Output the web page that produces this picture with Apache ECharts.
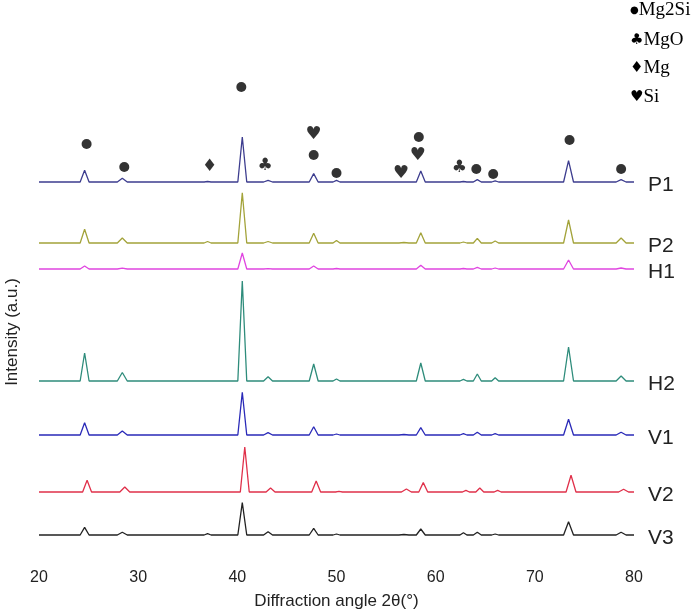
<!DOCTYPE html>
<html>
<head>
<meta charset="utf-8">
<script src="https://cdn.jsdelivr.net/npm/echarts@6/dist/echarts.min.js"></script>
<style>
  html, body { margin: 0; padding: 0; background: #fff; }
  #chart { width: 700px; height: 611px; }
</style>
</head>
<body>
<div id="chart"></div>
<script>
// peak positions (2θ) shared by all samples
const angles = [24.6, 28.4, 37.0, 40.5, 43.1, 47.7, 50.0, 56.8, 58.5, 62.8, 64.2, 66.0, 73.4, 78.7];
// half width of each peak at its foot
const halfWidths = [0.45, 0.5, 0.35, 0.45, 0.45, 0.45, 0.35, 0.5, 0.45, 0.35, 0.4, 0.35, 0.5, 0.5];

const samples = ['P1', 'P2', 'H1', 'H2', 'V1', 'V2', 'V3'];
const colors = ['#3d3d8f', '#a3a33a', '#e045e0', '#2e8c7b', '#2a2ab8', '#e0304a', '#222222'];
// vertical offset of each pattern (a.u.)
const baselines = [373, 312, 286, 174, 120, 63, 20];
// shift in 2θ of each pattern
const shifts = [0, 0, 0, 0, 0, 0.25, 0];

// peak heights above baseline, one value per angle
const p1 = [11.7, 3.7, 0.5, 45, 1.7, 8.4, 1.7, 0, 11, 0.5, 2.4, 1.2, 21.4, 2.4];
const p2 = [13.7, 5, 1.5, 50.3, 1.5, 9.7, 2.5, 0.5, 10.3, 1, 4.7, 2, 23, 5];
const h1 = [3, 0.8, 0, 16, 0.3, 3, 0.5, 0, 3.7, 0.5, 1.7, 1, 9, 1];
const h2 = [28, 8.5, 0, 100, 4.3, 17, 2, 0, 18, 1.7, 7, 3.3, 34, 5];
const v1 = [12.3, 4, 0, 42.7, 2.3, 8.3, 1, 0.5, 7.3, 1.3, 2.7, 1.3, 15.7, 2.7];
const v2 = [11.7, 5, 0, 45, 4, 11, 0.7, 3, 9.4, 1.7, 4, 1.7, 16.7, 2.7];
const v3 = [7.7, 2.7, 1.3, 32.3, 3.3, 6.7, 1, 0.5, 6, 2.3, 2.7, 1, 13.3, 2.7];
const heights = [p1, p2, h1, h2, v1, v2, v3];

// phase markers above P1: [2θ, height]
const mg2siMarks = [[24.8, 411], [28.6, 388], [40.4, 468], [47.7, 400], [50.0, 382], [58.3, 418], [64.1, 386], [65.8, 381], [73.5, 415], [78.7, 386]];
const mgoMarks = [[42.8, 389], [62.4, 387]];
const mgMarks = [[37.2, 388]];
const siMarks = [[47.7, 421], [56.5, 382], [58.2, 400]];

const xTicks = [20, 30, 40, 50, 60, 70, 80];

function pattern(i) {
    let base = baselines[i];
    let pts = [[20, base]];
    angles.forEach((a, k) => {
        let h = heights[i][k];
        if (!h) return;
        let x = a + shifts[i];
        pts.push([x - halfWidths[k], base]);
        pts.push([x, base + h]);
        pts.push([x + halfWidths[k], base]);
    });
    pts.push([80, base]);
    return pts;
}

let mChart = echarts.init(document.getElementById('chart'));

let series = samples.map((name, i) => ({
    name: name,
    type: 'line',
    data: pattern(i),
    showSymbol: false,
    symbol: 'none',
    lineStyle: { color: colors[i], width: 1.3 },
    endLabel: {
        show: true,
        formatter: '{a}',
        distance: 14,
        offset: [0, 3],
        color: '#222',
        fontSize: 21,
        fontFamily: 'Liberation Sans, Arial'
    },
    silent: true,
    z: 2
}));

function glyphSeries(data, glyph, size) {
    return {
        type: 'scatter',
        data: data,
        symbolSize: 1,
        itemStyle: { color: 'rgba(0,0,0,0)' },
        label: {
            show: true,
            position: 'inside',
            formatter: glyph,
            color: '#000',
            fontSize: size,
            fontFamily: 'DejaVu Sans'
        },
        z: 3
    };
}

series.push({
    type: 'scatter',
    data: mg2siMarks,
    symbol: 'circle',
    symbolSize: 10,
    itemStyle: { color: '#000' },
    z: 3
});
series.push(glyphSeries(mgoMarks, '♣', 17));
series.push(glyphSeries(mgMarks, '♦', 17));
series.push(glyphSeries(siMarks, '♥', 18));

let legendGlyphs = ['●', '♣', '♦', '♥'];
let legendNames = ['Mg2Si', 'MgO', 'Mg', 'Si'];
let legendY = [10, 40, 68, 97];

let options = {
    animation: false,
    grid: { left: 39, right: 66, top: 30, bottom: 56, outerBoundsMode: 'none' },
    xAxis: {
        type: 'value',
        min: xTicks[0],
        max: xTicks[xTicks.length - 1],
        interval: 10,
        name: 'Diffraction angle 2θ(°)',
        nameLocation: 'middle',
        nameGap: 38,
        nameTextStyle: { fontSize: 17, color: '#222', fontFamily: 'Liberation Sans, Arial' },
        axisLine: { show: false },
        axisTick: { show: false },
        splitLine: { show: false },
        axisLabel: { fontSize: 16, color: '#222', margin: 15, fontFamily: 'Liberation Sans, Arial' }
    },
    yAxis: {
        type: 'value',
        min: 0,
        max: 525,
        show: false
    },
    graphic: [
        {
            type: 'text',
            x: 12,
            y: 332,
            rotation: Math.PI / 2,
            style: {
                text: 'Intensity (a.u.)',
                fontSize: 17,
                fontFamily: 'Liberation Sans, Arial',
                fill: '#222',
                textAlign: 'center',
                textVerticalAlign: 'middle'
            }
        }
    ].concat(legendNames.map((t, i) => ({
        type: 'text',
        x: 630,
        y: legendY[i],
        style: {
            text: '{g|' + legendGlyphs[i] + '}' + t,
            fontSize: 19,
            fontFamily: 'Liberation Serif, Times New Roman',
            fill: '#000',
            textVerticalAlign: 'middle',
            rich: {
                g: { fontSize: i === 0 ? 10 : 15, fontFamily: 'DejaVu Sans', fill: '#000' }
            }
        }
    }))),
    series: series
};

mChart.setOption(options);
</script>
</body>
</html>
